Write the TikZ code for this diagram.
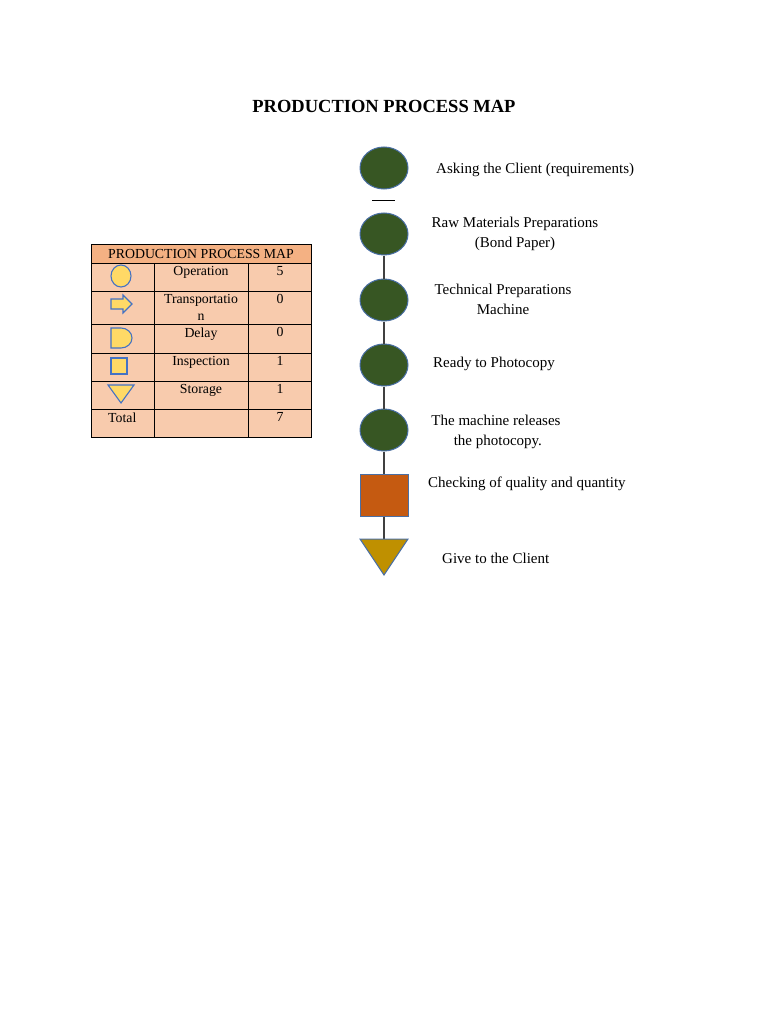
\documentclass[tikz,border=0pt]{standalone}
\usepackage{fontspec}
\setmainfont{Liberation Serif}
\usetikzlibrary{shapes.geometric}
\definecolor{opgreen}{HTML}{375623}
\definecolor{shapeblue}{HTML}{4A6FA5}
\definecolor{inspect}{HTML}{C55A11}
\definecolor{store}{HTML}{BF9000}
\definecolor{hdr}{HTML}{F4B183}
\definecolor{cellbg}{HTML}{F8CBAD}
\definecolor{sym}{HTML}{FFD966}
\definecolor{symline}{HTML}{4472C4}
\definecolor{conn}{HTML}{404040}
\tikzset{
  op/.style={ellipse, draw=shapeblue, line width=1pt, fill=opgreen, minimum width=48pt, minimum height=42pt, inner sep=0pt},
  insp/.style={rectangle, draw=shapeblue, line width=1pt, fill=inspect, minimum width=48pt, minimum height=42pt, inner sep=0pt},
  link/.style={draw=conn, line width=2pt},
  lbl/.style={font=\fontsize{15}{20}\selectfont, align=center, inner sep=0pt},
  tcell/.style={font=\fontsize{13.8}{17}\selectfont, inner sep=0pt, align=center},
  symb/.style={draw=symline, line width=1.1pt, fill=sym}
}
\begin{document}
\begin{tikzpicture}[x=1pt,y=-1pt]
\useasboundingbox (0,0) rectangle (768,1024);
\fill[white] (0,0) rectangle (768,1024);

\node[font=\fontsize{18.5}{22}\selectfont\bfseries] (title) at (384,106) {PRODUCTION PROCESS MAP};

% process chain
\node[op] (c1) at (384,168) {};
\node[op] (c2) at (384,234) {};
\node[op] (c3) at (384,300) {};
\node[op] (c4) at (384,365) {};
\node[op] (c5) at (384,430) {};
\node[insp] (sq) at (384,495) {};
\coordinate (tritop) at (384,539);
\draw[black, line width=1pt] (372,201) -- (395,201);
\draw[link] (c2) -- (c3);
\draw[link] (c3) -- (c4);
\draw[link] (c4) -- (c5);
\draw[link] (c5) -- (sq);
\draw[link] (sq) -- (tritop);
\draw[draw=shapeblue, line width=1pt, fill=store] (360,539) -- (408,539) -- (384,575) -- cycle;

\node[lbl, anchor=west] (t1) at (436,170) {Asking the Client (requirements)};
\node[lbl] (t2) at (515,234) {Raw Materials Preparations\\(Bond Paper)};
\node[lbl] (t3) at (503,299) {Technical Preparations\\Machine};
\node[lbl, anchor=west] (t4) at (433,364) {Ready to Photocopy};
\node[lbl] (t5) at (496,432) {The machine releases\\\ the photocopy.};
\node[lbl, anchor=west] (t6) at (428,484) {Checking of quality and quantity};
\node[lbl, anchor=west] (t7) at (442,558) {Give to the Client};

% table
\fill[hdr] (91,244) rectangle (311,263);
\fill[cellbg] (91,263) rectangle (311,437);
\draw[black, line width=0.8pt] (91,244) rectangle (311,437);
\foreach \y in {263,291,324,353,381,409} \draw[black, line width=0.8pt] (91,\y) -- (311,\y);
\draw[black, line width=0.8pt] (154,263) -- (154,437);
\draw[black, line width=0.8pt] (248,263) -- (248,437);

\node[tcell] (th) at (201,253.5) {PRODUCTION PROCESS MAP};
\node[tcell, anchor=north] (r1) at (201,266.5) {Operation};
\node[tcell, anchor=north] (r2) at (201,294.5) {Transportatio\\n};
\node[tcell, anchor=north] (r3) at (201,327.5) {Delay};
\node[tcell, anchor=north] (r4) at (201,356.5) {Inspection};
\node[tcell, anchor=north] (r5) at (201,384.5) {Storage};
\node[tcell, anchor=north] (n1) at (280,266.5) {5};
\node[tcell, anchor=north] (n2) at (280,294.5) {0};
\node[tcell, anchor=north] (n3) at (280,327.5) {0};
\node[tcell, anchor=north] (n4) at (280,356.5) {1};
\node[tcell, anchor=north] (n5) at (280,384.5) {1};
\node[tcell, anchor=north west] (tot) at (108,412.5) {Total};
\node[tcell, anchor=north] (n6) at (280,412.5) {7};

% symbols
\draw[symb] (121,276) ellipse (10 and 11);
\draw[symb] (111,299) -- (123,299) -- (123,295) -- (132,304) -- (123,313) -- (123,309) -- (111,309) -- cycle;
\draw[symb] (111,328) -- (121,328) arc[start angle=90, end angle=-90, x radius=11pt, y radius=10pt] -- (111,348) -- cycle;
\draw[symb] (111,358) rectangle (127,374);
\draw[symb] (108,385) -- (134,385) -- (121,403) -- cycle;
\end{tikzpicture}
\end{document}
